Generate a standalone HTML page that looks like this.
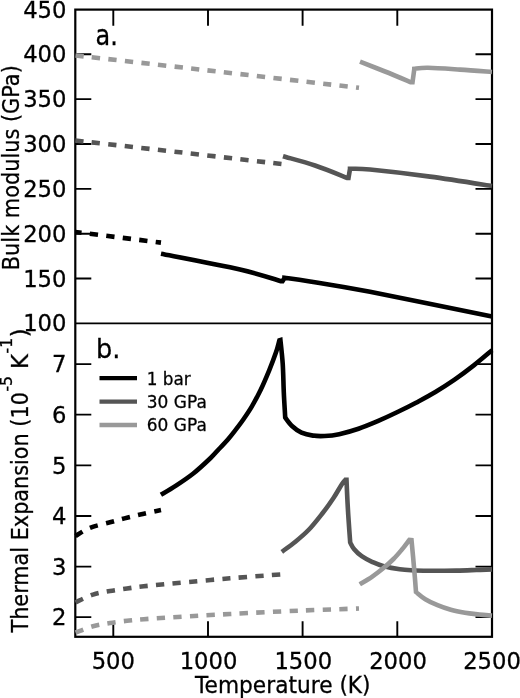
<!DOCTYPE html><html><head><meta charset="utf-8"><title>Figure</title>
<style>html,body{margin:0;padding:0;background:#fff}svg{display:block}text{font-family:"DejaVu Sans","Liberation Sans",sans-serif;fill:#000;stroke:#000;stroke-width:0.3px}</style></head><body>
<svg width="520" height="698" viewBox="0 0 520 698">
<rect width="520" height="698" fill="#fff"/>
<g fill="none" stroke="#000" stroke-linecap="butt">
<rect x="75.3" y="9.6" width="416.7" height="627.1999999999999" stroke-width="2.2"/>
<path d="M75.3 323.4 H492" stroke-width="1.8"/>
<path d="M113.3 9.6 v16.2 M113.3 636.8 v-15.5 M208 9.6 v16.2 M208 636.8 v-15.5 M302.6 9.6 v16.2 M302.6 636.8 v-15.5 M397.3 9.6 v16.2 M397.3 636.8 v-15.5 M75.3 54.3 h16 M492 54.3 h-16.5 M75.3 99.1 h16 M492 99.1 h-16.5 M75.3 144 h16 M492 144 h-16.5 M75.3 188.9 h16 M492 188.9 h-16.5 M75.3 233.7 h16 M492 233.7 h-16.5 M75.3 278.5 h16 M492 278.5 h-16.5 M75.3 364.1 h16 M492 364.1 h-16.5 M75.3 414.6 h16 M492 414.6 h-16.5 M75.3 465.4 h16 M492 465.4 h-16.5 M75.3 516 h16 M492 516 h-16.5 M75.3 566.6 h16 M492 566.6 h-16.5 M75.3 617.1 h16 M492 617.1 h-16.5" stroke-width="1.9"/>
</g>
<g fill="none" stroke-linejoin="miter" stroke-miterlimit="1.6" stroke-linecap="butt">
<path d="M75.5 55.5 C96.2 57.8 152.8 64.1 200.0 69.5 C247.2 74.9 332.5 84.8 359.0 87.8" stroke="#999" stroke-width="4.6" stroke-dasharray="8.3 8.3" stroke-dashoffset="0"/>
<path d="M360.0 61.7 C364.2 63.3 376.5 68.1 385.0 71.5 C393.5 74.9 406.7 80.5 411.0 82.3 L412.5 82.3 L414.3 69.0 L414.3 68.8 C416.6 68.6 420.4 67.7 428.0 67.8 C435.6 67.9 449.3 68.9 460.0 69.6 C470.7 70.3 486.7 71.6 492.0 72.0" stroke="#999" stroke-width="4.6"/>
<path d="M75.3 140.5 C92.8 142.5 145.6 148.4 180.0 152.3 C214.4 156.2 264.6 162.1 281.5 164.0" stroke="#555" stroke-width="4.6" stroke-dasharray="8.3 8.3" stroke-dashoffset="0"/>
<path d="M283.0 156.2 C288.3 157.8 304.2 161.9 315.0 165.5 C325.8 169.1 342.1 175.9 347.5 178.0 L348.5 178.0 L350.0 169.0 L350.0 168.8 C353.3 168.9 356.7 168.2 370.0 169.5 C383.3 170.8 409.7 173.8 430.0 176.6 C450.3 179.3 481.7 184.4 492.0 186.0" stroke="#555" stroke-width="4.6"/>
<path d="M75.3 232.0 L161.0 242.6" stroke="#000" stroke-width="4.6" stroke-dasharray="8.3 8.3" stroke-dashoffset="2"/>
<path d="M161.0 253.7 C174.2 256.3 220.0 264.9 240.0 269.5 C260.0 274.1 274.2 279.2 281.0 281.2 L282.5 281.2 L284.5 278.0 L284.5 277.8 C288.8 278.4 295.8 279.1 310.0 281.4 C324.2 283.7 339.7 285.9 370.0 291.8 C400.3 297.7 471.7 312.5 492.0 316.6" stroke="#000" stroke-width="4.6"/>
<path d="M75.5 536.0 C77.9 534.6 84.2 530.1 90.0 527.8 C95.8 525.5 103.8 524.0 110.0 522.3 C116.2 520.6 121.4 519.1 127.0 517.7 C132.6 516.3 138.1 515.0 143.8 513.7 C149.5 512.4 158.1 510.6 161.0 510.0" stroke="#000" stroke-width="4.6" stroke-dasharray="8.3 8.3" stroke-dashoffset="0"/>
<path d="M160.9 494.8 C163.4 493.3 170.6 489.2 176.0 485.6 C181.4 482.1 187.5 478.1 193.3 473.5 C199.1 468.9 206.3 462.1 210.6 458.0 C214.9 453.9 216.1 452.1 219.0 449.0 C221.9 445.9 225.2 442.6 227.9 439.5 C230.6 436.4 232.4 433.9 235.0 430.6 C237.6 427.3 240.5 423.6 243.3 419.5 C246.1 415.4 249.0 411.2 251.9 406.3 C254.8 401.4 257.7 396.0 260.6 390.0 C263.5 384.0 266.6 376.6 269.2 370.3 C271.8 364.0 274.4 357.1 276.1 352.1 C277.8 347.1 278.8 342.3 279.4 340.3 L280.4 340.0 C280.8 343.9 282.1 354.8 282.7 363.5 C283.3 372.2 283.4 383.3 283.8 392.3 C284.2 401.3 285.0 413.3 285.2 417.5 L285.2 417.5 C286.3 418.9 289.3 423.5 292.0 426.0 C294.7 428.5 298.0 431.1 301.5 432.7 C305.0 434.3 309.1 435.1 313.0 435.6 C316.9 436.2 320.2 436.2 324.6 436.0 C329.0 435.8 333.6 435.4 339.2 434.2 C344.8 433.0 352.1 431.0 358.5 428.8 C364.9 426.6 371.3 423.9 377.7 421.2 C384.1 418.4 390.6 415.4 397.0 412.3 C403.4 409.2 409.6 406.1 416.0 402.7 C422.4 399.3 429.0 395.9 435.4 392.0 C441.8 388.1 448.2 384.0 454.6 379.6 C461.0 375.2 467.6 370.3 473.8 365.4 C480.0 360.5 489.0 352.8 492.0 350.3" stroke="#000" stroke-width="4.6"/>
<path d="M75.5 602.3 C78.4 601.0 87.2 596.5 93.0 594.6 C98.8 592.7 104.3 592.0 110.0 591.0 C115.7 590.0 121.4 589.3 127.0 588.5 C132.6 587.7 135.4 587.2 143.8 586.3 C152.2 585.4 163.3 584.3 177.7 583.0 C192.1 581.7 212.8 579.7 230.0 578.3 C247.2 576.9 272.5 575.0 281.0 574.4" stroke="#555" stroke-width="4.6" stroke-dasharray="8.3 8.3" stroke-dashoffset="0"/>
<path d="M281.8 551.8 C284.1 550.1 290.9 545.4 295.4 541.7 C299.9 538.0 304.4 534.3 309.0 529.5 C313.6 524.7 318.6 518.2 322.7 513.0 C326.8 507.8 330.3 502.8 333.5 498.0 C336.7 493.2 339.7 487.5 341.7 484.5 C343.7 481.5 344.8 480.6 345.4 479.8 L346.5 479.8 C346.7 484.7 347.3 498.6 347.9 509.0 C348.5 519.5 349.8 536.9 350.2 542.5 L350.2 542.5 C350.8 543.6 352.1 546.7 354.0 549.0 C355.9 551.3 358.7 554.1 361.7 556.2 C364.7 558.3 368.4 560.2 372.0 561.8 C375.6 563.4 378.4 564.8 383.0 566.0 C387.6 567.2 394.6 568.6 399.8 569.3 C405.0 570.0 408.8 570.1 414.0 570.4 C419.2 570.6 423.9 570.8 431.0 570.8 C438.1 570.8 448.9 570.7 456.5 570.6 C464.1 570.5 470.4 570.2 476.3 570.0 C482.2 569.8 489.4 569.5 492.0 569.4" stroke="#555" stroke-width="4.6"/>
<path d="M75.5 632.5 C78.4 631.5 87.2 627.9 93.0 626.3 C98.8 624.7 104.3 623.9 110.0 623.0 C115.7 622.1 121.4 621.4 127.0 620.8 C132.6 620.2 135.4 619.8 143.8 619.2 C152.2 618.6 163.3 617.9 177.7 617.0 C192.1 616.1 209.6 615.1 230.0 614.0 C250.4 612.9 278.5 611.5 300.0 610.6 C321.5 609.7 349.2 608.9 359.0 608.5" stroke="#999" stroke-width="4.6" stroke-dasharray="8.3 8.3" stroke-dashoffset="0"/>
<path d="M359.8 584.4 C361.9 583.1 368.5 579.2 372.3 576.6 C376.1 574.0 379.4 571.5 382.9 568.6 C386.4 565.7 390.3 562.2 393.5 559.0 C396.7 555.8 399.2 552.8 401.9 549.6 C404.6 546.4 408.2 541.4 409.5 539.8 L411.5 540.0 C412.0 545.1 413.6 562.1 414.3 570.8 C415.1 579.5 415.7 588.5 416.0 592.0 L416.0 592.0 C417.6 593.2 421.7 597.0 425.3 599.2 C428.9 601.4 433.2 603.4 437.5 605.2 C441.8 607.0 446.2 608.5 450.8 609.8 C455.4 611.1 460.3 612.0 465.0 612.8 C469.7 613.6 474.7 614.0 479.2 614.5 C483.7 615.0 489.9 615.4 492.0 615.6" stroke="#999" stroke-width="4.6"/>
<path d="M99.5 378.2 H137" stroke="#000" stroke-width="4.3"/>
<path d="M99.5 401.7 H137" stroke="#555" stroke-width="4.3"/>
<path d="M99.5 425 H137" stroke="#999" stroke-width="4.3"/>
</g>
<g font-size="22.7" text-anchor="end">
<text x="66.5" y="18.0">450</text>
<text x="66.5" y="62.4">400</text>
<text x="66.5" y="107.2">350</text>
<text x="66.5" y="152.1">300</text>
<text x="66.5" y="196.9">250</text>
<text x="66.5" y="241.8">200</text>
<text x="66.5" y="286.6">150</text>
<text x="66.5" y="331.4">100</text>
<text x="66.5" y="372.2">7</text>
<text x="66.5" y="422.7">6</text>
<text x="66.5" y="473.5">5</text>
<text x="66.5" y="524.1">4</text>
<text x="66.5" y="574.7">3</text>
<text x="66.5" y="625.2">2</text>
</g>
<g font-size="22.7" text-anchor="middle">
<text x="113.3" y="668.7">500</text>
<text x="208.5" y="668.7">1000</text>
<text x="303.3" y="668.7">1500</text>
<text x="398" y="668.7">2000</text>
<text x="492" y="668.7">2500</text>
<text x="282.8" y="692.6" textLength="175.5" lengthAdjust="spacingAndGlyphs">Temperature (K)</text>
</g>
<text font-size="27.5" x="95.5" y="45" textLength="22.3" lengthAdjust="spacingAndGlyphs">a.</text>
<text font-size="25.8" x="96" y="358.3" textLength="24.3" lengthAdjust="spacingAndGlyphs">b.</text>
<g font-size="18.5">
<text x="146.8" y="384.5" textLength="44" lengthAdjust="spacingAndGlyphs">1 bar</text>
<text x="146.8" y="408.0" textLength="60" lengthAdjust="spacingAndGlyphs">30 GPa</text>
<text x="146.8" y="431.3" textLength="60" lengthAdjust="spacingAndGlyphs">60 GPa</text>
</g>
<text font-size="22.7" transform="translate(18.6 270.2) rotate(-90)" textLength="205" lengthAdjust="spacingAndGlyphs">Bulk modulus (GPa)</text>
<g transform="translate(27.5 0) rotate(-90)" font-size="22.7">
<text x="-632.5" y="0" textLength="240.4" lengthAdjust="spacingAndGlyphs">Thermal Expansion (10</text>
<text x="-391.6" y="-15.8" font-size="15.8">-5</text>
<text x="-369" y="0">K</text>
<text x="-353.5" y="-15.8" font-size="15.8">-1</text>
<text x="-337.3" y="0">)</text>
</g>
</svg></body></html>
